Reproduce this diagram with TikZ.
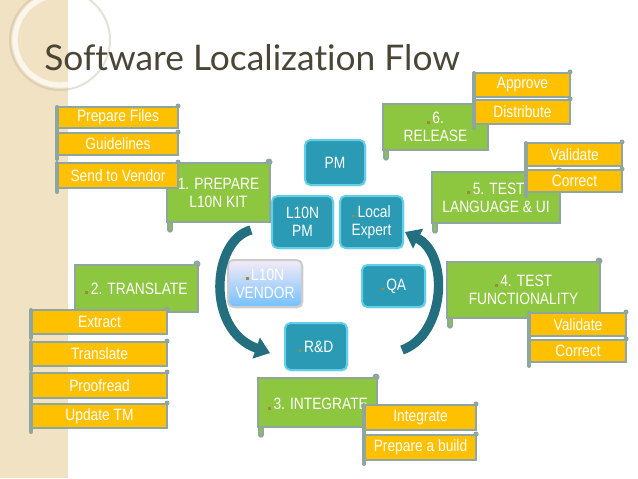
\documentclass[tikz,border=0pt]{standalone}
\usepackage{fontspec}
\setmainfont{Liberation Sans}[FakeStretch=0.84]
\newfontfamily\titlefont{Lato}[Ligatures={NoCommon,NoDiscretionary}]
\usetikzlibrary{fit,arrows.meta,shadows}
\definecolor{lgreen}{HTML}{8DC63F}
\definecolor{sgray}{HTML}{8FA5A0}
\definecolor{orng}{HTML}{FFC000}
\definecolor{teal1}{HTML}{2A9AB5}
\definecolor{teal2}{HTML}{5FD0E8}
\definecolor{arrc}{HTML}{236F80}
\definecolor{beige}{HTML}{F0E2C2}
\definecolor{titlec}{HTML}{4B4536}
\definecolor{bul}{HTML}{9C8B3A}
\newcommand\bl{{\color{bul}\rule{2pt}{2pt}}\,}
\newcommand\tf{\fontsize{12.3}{13.5}\selectfont}
\tikzset{
 gbox/.style={fill=lgreen,draw=sgray,line width=1.2pt,inner sep=0pt},
 obox/.style={fill=orng,draw=sgray,line width=1.2pt,inner sep=0pt},
 tbox/.style={fill=teal1,draw=teal2,line width=1.5pt,rounded corners=4pt,inner sep=0pt,drop shadow={opacity=0.25,shadow xshift=1pt,shadow yshift=-1pt}},
 lbl/.style={text=white,align=center,font=\tf,inner sep=0pt},
 rod/.style={line width=4pt,draw=sgray,line cap=round},
 big/.style={line width=7pt,draw=arrc,-{Triangle[width=16pt,length=11pt]}},
}
\newcommand\gscroll[6]{%
 \draw[rod] (#2+3,#3+6) -- (#2+3,#5+8);
 \fill[sgray] (#4-1,#3-1) circle (3.5);
 \node[gbox,fit={(#2,#3) (#4,#5)}] (#1) {};
 \draw[line width=2pt,lgreen,line cap=round] (#2+3,#5+2) -- (#2+3,#5+7);
 \node[lbl] at (#1) {#6};}
\newcommand\oscroll[6]{%
 \draw[rod,line width=3pt] (#2+2,#3) -- (#2+2,#5+4);
 \fill[sgray] (#4,#3-1) circle (2.5);
 \node[obox,fit={(#2+3,#3) (#4,#5)}] (#1) {};
 \node[lbl] at (#1) {#6};}
\begin{document}
\begin{tikzpicture}[x=0.75pt,y=-0.75pt]
\useasboundingbox (0,0) rectangle (638,478);
\fill[beige] (0,0) rectangle (68,478);
\draw[white,line width=4pt,opacity=0.7] (60,40) circle (45);
\draw[beige!80!black,line width=1.5pt,opacity=0.4] (60,40) circle (50);
\node[anchor=base west,text=titlec,font=\titlefont\fontsize{26.5}{30}\selectfont,inner sep=0] (title) at (44,70) {Software Localization Flow};

% green scrolls
\gscroll{s1}{167}{163}{270}{222}{1. PREPARE\\L10N KIT}
\gscroll{s2}{75}{265}{198}{312}{\bl 2. TRANSLATE}
\gscroll{s3}{258}{378}{377}{427}{}
\node[lbl] at (318,404) {\bl 3. INTEGRATE};
\gscroll{s4}{447}{262}{600}{318}{\bl 4. TEST\\FUNCTIONALITY}
\gscroll{s5}{432}{172}{560}{223}{\bl 5. TEST\\LANGUAGE \& UI}
\gscroll{s6}{383}{104}{488}{150}{\bl 6.\\RELEASE}

% orange
\oscroll{o1}{55}{107}{178}{128}{Prepare Files}
\oscroll{o2}{55}{133}{178}{155}{Guidelines}
\oscroll{o3}{55}{163}{178}{188}{Send to Vendor}
\oscroll{o4}{29}{310}{167}{334}{Extract}
\oscroll{o5}{29}{342}{167}{366}{Translate}
\oscroll{o6}{29}{373}{167}{398}{Proofread}
\oscroll{o7}{29}{404}{167}{428}{Update TM}
\oscroll{o8}{362}{405}{476}{430}{Integrate}
\oscroll{o9}{362}{435}{476}{460}{Prepare a build}
\oscroll{o10}{527}{313}{626}{336}{Validate}
\oscroll{o11}{527}{340}{626}{362}{Correct}
\oscroll{o12}{524}{143}{622}{166}{Validate}
\oscroll{o13}{524}{170}{622}{192}{Correct}
\oscroll{o14}{472}{73}{570}{97}{Approve}
\oscroll{o15}{472}{100}{570}{124}{Distribute}

% teal boxes
\node[tbox,fit={(305,140) (365,185)}] (pm) {};
\node[lbl] at (pm) {PM};
\node[tbox,fit={(272,196) (333,248)}] (lpm) {};
\node[lbl] at (lpm) {L10N\\PM};
\node[tbox,fit={(340,196) (403,248)}] (le) {};
\node[lbl] at (le) {\bl Local\\Expert};
\node[tbox,draw=gray!40,top color=violet!8,bottom color=blue!45!cyan!55,fit={(228,260) (302,307)}] (lv) {};
\node[lbl] at (lv) {\bl L10N\\VENDOR};
\node[tbox,fit={(362,265) (425,307)}] (qa) {};
\node[lbl] at (qa) {\bl QA};
\node[tbox,fit={(285,323) (347,370)}] (rd) {};
\node[lbl] at (rd) {\bl R\&D};

% arrows
\coordinate (a1) at (251,230);
\coordinate (a2) at (270,353);
\coordinate (b1) at (402,350);
\coordinate (b2) at (405,232);
\draw[big] (a1) .. controls (212,240) and (205,330) .. (a2);
\draw[big] (b1) .. controls (445,335) and (450,255) .. (b2);
\end{tikzpicture}
\end{document}
